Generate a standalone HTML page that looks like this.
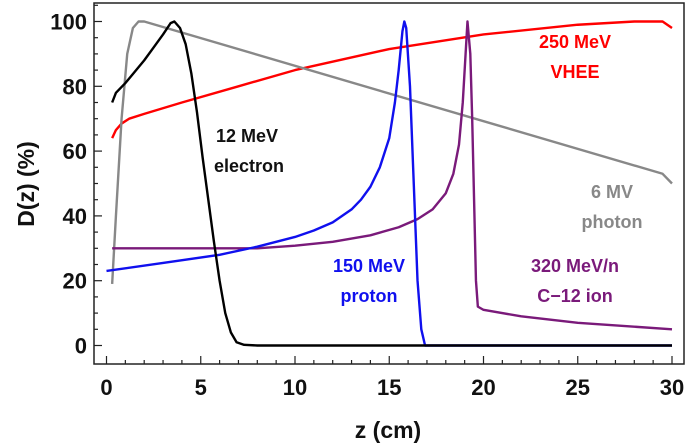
<!DOCTYPE html>
<html><head><meta charset="utf-8"><style>
body{margin:0;background:#fff;}
svg{display:block;font-family:"Liberation Sans",Arial,sans-serif;font-weight:bold;}
</style></head><body>
<svg id="chart" width="685" height="446" viewBox="0 0 685 446" xmlns="http://www.w3.org/2000/svg">
<rect x="94" y="3" width="590" height="361" fill="none" stroke="#222" stroke-width="1.5"/>
<g id="ticks"></g>
<g id="series"></g>
<text transform="translate(34,184) rotate(-90)" text-anchor="middle" font-size="23" fill="#111">D(z) (%)</text>
<text x="388" y="438" text-anchor="middle" font-size="23" fill="#111">z (cm)</text>
<text x="247" y="142" text-anchor="middle" font-size="18" fill="#111">12 MeV</text>
<text x="249" y="172" text-anchor="middle" font-size="18" fill="#111">electron</text>
<text x="575" y="48" text-anchor="middle" font-size="18" fill="#f00">250 MeV</text>
<text x="575" y="78" text-anchor="middle" font-size="18" fill="#f00">VHEE</text>
<text x="612" y="198" text-anchor="middle" font-size="18" fill="#888">6 MV</text>
<text x="612" y="228" text-anchor="middle" font-size="18" fill="#888">photon</text>
<text x="369" y="272" text-anchor="middle" font-size="18" fill="#1010ee">150 MeV</text>
<text x="369" y="302" text-anchor="middle" font-size="18" fill="#1010ee">proton</text>
<text x="575" y="272" text-anchor="middle" font-size="18" fill="#7a1a7a">320 MeV/n</text>
<text x="575" y="302" text-anchor="middle" font-size="18" fill="#7a1a7a">C−12 ion</text>
</svg>
<script>
const xTicks=[0,5,10,15,20,25,30];
const yTicks=[0,20,40,60,80,100];
const electronZ=[0.3,0.5,1,1.5,2,2.5,3,3.4,3.6,3.9,4.2,4.5,4.8,5.1,5.4,5.7,6,6.3,6.6,6.9,7.3,8,30];
const electronD=[75,78,81,84.5,88,92,96,99.5,100,98,93,84,72,58,45,32,20,10,4,1,0.2,0,0];
const photonZ=[0.3,0.5,0.8,1.1,1.4,1.7,2,29.5,30];
const photonD=[19,40,70,90,98,100,100,53,50];
const protonZ=[0,3,6,8,10,11,12,13,13.5,14,14.5,15,15.3,15.5,15.7,15.8,15.9,16.1,16.3,16.5,16.7,16.9,30];
const protonD=[23,25.5,28,30.5,33.5,35.5,38,42,45,49,55,64,75,85,97,100,98,80,50,20,5,0,0];
const carbonZ=[0.3,8,10,12,14,15.5,16.5,17.3,18,18.4,18.7,18.9,19.05,19.15,19.3,19.4,19.5,19.6,19.7,20,22,25,30];
const carbonD=[30,30,30.8,32,34,36.5,39,42,47,53,62,75,90,100,90,70,45,20,12,11,9,7,5];
const vheeZ=[0.3,0.5,0.8,1.2,2,4,7,10,15,20,25,28,29.5,30];
const vheeD=[64,66.5,68.5,70,71.5,75,80,85,91.5,96,99,100,100,98];
const xs=z=>106.5+z*18.85, ys=d=>345.5-d*3.24;
const NS="http://www.w3.org/2000/svg";
const tg=document.getElementById('ticks'), sg=document.getElementById('series');
function mk(t,a,p){const e=document.createElementNS(NS,t);for(const k in a)e.setAttribute(k,a[k]);p.appendChild(e);return e;}
for(let v=0;v<=30;v+=1){const l=mk('line',{x1:xs(v),x2:xs(v),y1:364,y2:v%5?360:356,stroke:'#222','stroke-width':1.2},tg);

}
for(let v=0;v<=105;v+=5){const l=mk('line',{x1:94,x2:v%20?98:102,y1:ys(v),y2:ys(v),stroke:'#222','stroke-width':1.2},tg);

}
xTicks.forEach(v=>{const t=mk('text',{x:xs(v),y:395,'text-anchor':'middle','font-size':22,fill:'#111'},tg);t.textContent=v;

});
yTicks.forEach(v=>{const t=mk('text',{x:87,y:ys(v)+8,'text-anchor':'end','font-size':22,fill:'#111'},tg);t.textContent=v;

});
function line(Z,D,c,n){const p=mk('polyline',{points:Z.map((z,i)=>xs(z)+','+ys(D[i])).join(' '),fill:'none',stroke:c,'stroke-width':2.4,'stroke-linejoin':'round'},sg);

}
line(vheeZ,vheeD,'#f00','vhee-line');
line(photonZ,photonD,'#888','photon-line');
line(carbonZ,carbonD,'#7a1a7a','carbon-line');
line(protonZ,protonD,'#1010ee','proton-line');
line(electronZ,electronD,'#000','electron-line');
</script>
</body></html>
